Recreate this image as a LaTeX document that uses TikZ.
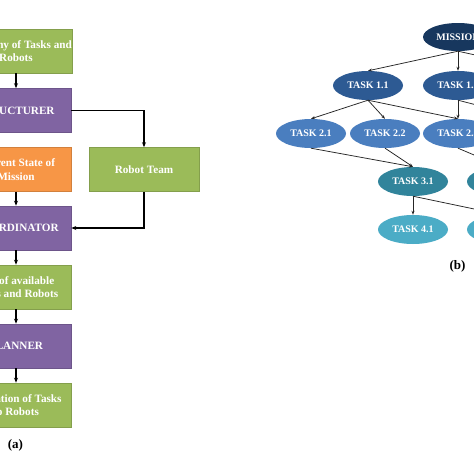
\documentclass[tikz,border=0pt]{standalone}
\usepackage{fontspec}
\setmainfont{Liberation Serif}
\usetikzlibrary{arrows.meta,shapes.geometric}
\definecolor{boxgreen}{HTML}{9BBB59}
\definecolor{boxpurple}{HTML}{8064A2}
\definecolor{boxorange}{HTML}{F79646}
\definecolor{lvlzero}{HTML}{17375E}
\definecolor{lvlone}{HTML}{2D5A93}
\definecolor{lvltwo}{HTML}{4A7EBF}
\definecolor{lvlthree}{HTML}{31849B}
\definecolor{lvlfour}{HTML}{4BACC6}
\begin{document}
\begin{tikzpicture}[x=1pt,y=-1pt,
  flowbox/.style={rectangle, minimum width=110pt, minimum height=44pt, align=center,
    text=white, font=\fontsize{11.2}{13.5}\selectfont\bfseries, inner sep=0pt,
    draw=#1!85!black, fill=#1, line width=0.6pt},
  task/.style={ellipse, minimum width=70pt, minimum height=29pt, inner sep=0pt,
    fill=#1, text=white, font=\fontsize{10}{11}\selectfont\bfseries},
  flowarrow/.style={-{Stealth[length=5pt,width=4pt]}, line width=1.3pt},
  treearrow/.style={-{Stealth[length=4pt,width=3pt]}, line width=0.75pt, draw=black!85},
  panellabel/.style={font=\fontsize{13}{14}\selectfont\bfseries, text=black}
]
\useasboundingbox (0,0) rectangle (474,474);
\fill[white] (0,0) rectangle (474,474);
\clip (0,0) rectangle (474,474);

% ---- panel (a)
\node[flowbox=boxgreen]  (b1) at (16,51)    {Hierarchy of Tasks and\\Robots};
\node[flowbox=boxpurple] (b2) at (16,110.5) {STRUCTURER};
\node[flowbox=boxorange] (b3) at (16,169.5) {Current State of\\Mission};
\node[flowbox=boxpurple] (b4) at (16,228)   {COORDINATOR};
\node[flowbox=boxgreen]  (b5) at (16,287)   {List of available\\Tasks and Robots};
\node[flowbox=boxpurple] (b6) at (16,346)   {PLANNER};
\node[flowbox=boxgreen]  (b7) at (16,405)   {Allocation of Tasks\\to Robots};
\node[flowbox=boxgreen]  (rt) at (144,169.5) {Robot Team};

\draw[flowarrow] (b1.south) -- (b2.north);
\draw[flowarrow] (b3.south) -- (b4.north);
\draw[flowarrow] (b4.south) -- (b5.north);
\draw[flowarrow] (b5.south) -- (b6.north);
\draw[flowarrow] (b6.south) -- (b7.north);
\draw[flowarrow] (b2.east) -| (rt.north);
\draw[flowarrow] (rt.south) |- (b4.east);

\node[panellabel] (la) at (15.5,445) {(a)};

% ---- panel (b)
\node[task=lvlzero, minimum height=28pt] (m)   at (458,37)  {MISSION};
\node[task=lvlone]   (t11) at (368,85.5)  {TASK 1.1};
\node[task=lvlone]   (t12) at (458,85.5)  {TASK 1.2};
\coordinate (t13) at (548,71);
\node[task=lvltwo]   (t21) at (311,133.5) {TASK 2.1};
\node[task=lvltwo]   (t22) at (385,133.5) {TASK 2.2};
\node[task=lvltwo]   (t23) at (458,133.5) {TASK 2.3};
\coordinate (t24) at (531,119);
\node[task=lvlthree] (t31) at (413,181.5) {TASK 3.1};
\node[task=lvlthree] (t32) at (502,181.5) {TASK 3.2};
\node[task=lvlfour]  (t41) at (413,229.5) {TASK 4.1};
\node[task=lvlfour]  (t42) at (502,229.5) {TASK 4.2};

\draw[treearrow] (m.south) -- (t11.north);
\draw[treearrow] (m.south) -- (t12.north);
\draw[treearrow] (m.south) -- (t13);
\draw[treearrow] (t11.south) -- (t21.north);
\draw[treearrow] (t11.south) -- (t22.north);
\draw[treearrow] (t11.south) -- (t23.north);
\draw[treearrow] (t12.south) -- (t23.north);
\draw[treearrow] (t12.south) -- (t24);
\draw[treearrow] (t21.south) -- (t31.north);
\draw[treearrow] (t22.south) -- (t31.north);
\draw[treearrow] (t23.south) -- (t32.north);
\draw[treearrow] (t31.south) -- (t41.north);
\draw[treearrow] (t31.south) -- (t42.north);

\node[panellabel] (lb) at (457.5,266) {(b)};
\end{tikzpicture}
\end{document}
